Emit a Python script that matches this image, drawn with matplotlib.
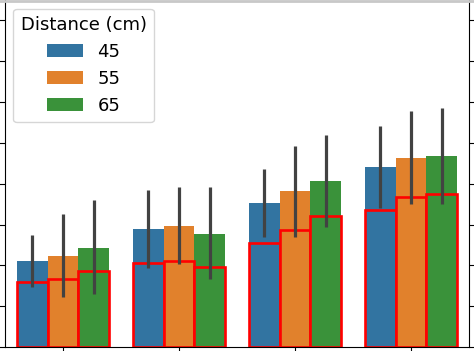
import matplotlib
matplotlib.use("Agg")
import matplotlib.pyplot as plt
from matplotlib.patches import Patch
from matplotlib.lines import Line2D
import numpy as np

# groups along x (tick labels are cropped off in the reference)
categories = ["A", "B", "C", "D"]
distances = ["45", "55", "65"]

# mean bar heights, one list per distance
mean_45 = [21.1, 28.9, 35.3, 44.1]
mean_55 = [22.3, 29.7, 38.2, 46.3]
mean_65 = [24.3, 27.7, 40.7, 46.8]

# red-outlined inner bars
inner_45 = [15.9, 20.6, 25.5, 33.6]
inner_55 = [16.7, 21.1, 28.7, 36.8]
inner_65 = [18.6, 19.6, 32.1, 37.5]

# confidence interval (low, high)
ci_low_45 = [14.7, 19.4, 27.0, 34.1]
ci_high_45 = [27.5, 38.5, 43.6, 54.2]
ci_low_55 = [12.3, 20.3, 27.0, 35.0]
ci_high_55 = [32.6, 39.2, 49.3, 57.8]
ci_low_65 = [13.0, 16.7, 29.4, 35.0]
ci_high_65 = [36.0, 39.2, 52.0, 58.6]

colors = ["#3274a1", "#e1812c", "#3a923a"]

means = [mean_45, mean_55, mean_65]
inners = [inner_45, inner_55, inner_65]
lows = [ci_low_45, ci_low_55, ci_low_65]
highs = [ci_high_45, ci_high_55, ci_high_65]

fig = plt.figure(figsize=(4.74, 3.51), dpi=100)
ax = fig.add_axes([5 / 474, 4 / 351, 464 / 474, 347 / 351])

x = np.arange(len(categories))
width = 0.8 / 3

for i in range(3):
    pos = x + (i - 1) * width
    ax.bar(pos, means[i], width=width, color=colors[i], zorder=1)
    ax.bar(pos, inners[i], width=width, color=colors[i],
           edgecolor="red", linewidth=1.9, zorder=2)
    ax.vlines(pos, lows[i], highs[i], color="#424242", linewidth=2.3, zorder=3)

ax.set_xlim(-0.5, 3.5)
ax.set_ylim(0, 85)
ax.set_xticks(x)
ax.set_yticks(np.arange(0, 90, 10))
ax.tick_params(labelleft=False, labelbottom=False, labelright=False,
               right=True, direction="out", length=4)
ax.spines["top"].set_visible(False)

# thin grey frame line along the top of the crop
fig.add_artist(Line2D([0, 1], [0.997, 0.997], color="#c8c8c8", linewidth=2,
                      transform=fig.transFigure))

handles = [Patch(facecolor=c) for c in colors]
ax.legend(handles, distances, title="Distance (cm)", loc="upper left",
          bbox_to_anchor=(0.018, 0.975), fontsize=13, title_fontsize=13,
          borderaxespad=0)

fig.savefig("out.png", dpi=100)
